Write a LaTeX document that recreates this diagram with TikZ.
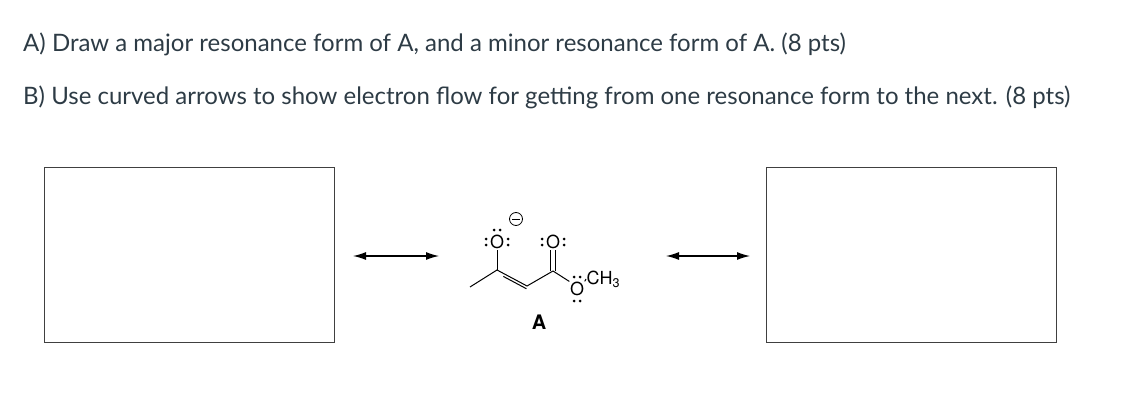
\documentclass[tikz,border=0pt]{standalone}
\usepackage{fontspec}
\setmainfont{Lato}
\newfontfamily\chemfont{TeX Gyre Heros}
\usetikzlibrary{arrows.meta,calc}
\definecolor{qtext}{HTML}{2D3B45}
\tikzset{
  qline/.style={anchor=base west, text=qtext, font=\fontsize{24}{28}\selectfont, inner sep=0pt},
  ansbox/.style={draw=black!75, line width=1pt},
  resarrow/.style={{Latex[length=13pt,width=8pt]}-{Latex[length=13pt,width=8pt]}, line width=1.2pt},
  bond/.style={line width=1pt},
  atom/.style={font=\chemfont\fontsize{18}{18}\selectfont, inner sep=0.5pt},
  lp/.style={fill=black, circle, inner sep=0pt, minimum size=3pt}
}
\begin{document}
\begin{tikzpicture}[x=1pt,y=-1pt]
\useasboundingbox (0,0) rectangle (1144,404);
\node[qline] (qa) at (23,52) {A) Draw a major resonance form of A, and a minor resonance form of A. (8 pts)};
\node[qline] (qb) at (23,105) {B) Use curved arrows to show electron flow for getting from one resonance form to the next. (8 pts)};
\draw[ansbox] (44,167) rectangle (334,342);
\draw[ansbox] (766,167) rectangle (1056,342);
\coordinate (l1) at (353,256); \coordinate (l2) at (439,256);
\coordinate (r1) at (666,256); \coordinate (r2) at (750,256);
\draw[resarrow] (l1) -- (l2);
\draw[resarrow] (r1) -- (r2);
% molecule
\coordinate (me) at (470,287);
\coordinate (c1) at (497,270);
\coordinate (c2) at (527,286);
\coordinate (c3) at (553,271);
\node[atom] (o1) at (497,242) {O};
\node[atom] (o2) at (553,242) {O};
\node[atom] (o3) at (577,289) {O};
\node[atom, anchor=west] (ch3) at (586,279) {CH\textsubscript{3}};
\draw[bond] (me) -- (c1) -- (c2) -- (c3);
\draw[bond] ($(c1)!0.15!(c2)+(1.8,4)$) -- ($(c1)!0.92!(c2)+(1.8,4)$);
\draw[bond] (c1) -- (o1.south);
\draw[bond] ($(c3)+(-2.2,0)$) -- ($(o2.south)+(-2.2,0)$);
\draw[bond] ($(c3)+(2.2,0)$) -- ($(o2.south)+(2.2,0)$);
\draw[bond] (c3) -- (o3.north west);
\draw[bond] (o3.north east) -- (ch3.west);
% lone pairs
\foreach \p/\dx/\dy in {o1/-11/-3, o1/-11/3, o1/11/-3, o1/11/3, o1/-3/-12, o1/3/-12,
  o2/-11/-3, o2/-11/3, o2/11/-3, o2/11/3,
  o3/-3/-12, o3/3/-12, o3/-3/12, o3/3/12}
  \node[lp] at ($(\p)+(\dx,\dy)$) {};
\node[draw, circle, line width=0.8pt, minimum size=13pt, inner sep=0pt] (neg) at (516,219) {};
\draw[line width=0.9pt] ($(neg)+(-4,0)$) -- ($(neg)+(4,0)$);
\node[font=\chemfont\bfseries\fontsize{20}{20}\selectfont] (lab) at (539,322) {A};
\end{tikzpicture}
\end{document}
